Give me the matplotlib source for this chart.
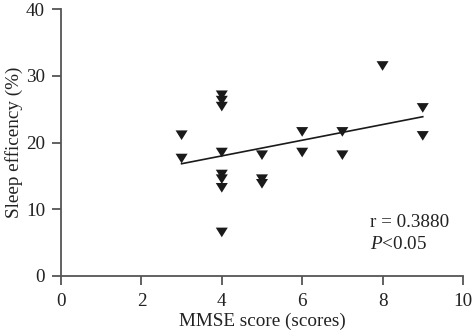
import numpy as np
import matplotlib
matplotlib.use("Agg")
import matplotlib.pyplot as plt

plt.rcParams['font.family'] = ['Liberation Serif', 'DejaVu Serif']
plt.rcParams['mathtext.fontset'] = 'custom'
plt.rcParams['mathtext.it'] = 'Liberation Serif:italic'

# MMSE score and sleep efficiency per subject
mmse = [3, 3, 4, 4, 4, 4, 4, 4, 4, 4, 5, 5, 5, 6, 6, 7, 7, 8, 9, 9]
sleep_eff = [21.1, 17.6, 27.1, 26.3, 25.4, 18.5, 15.2, 14.5, 13.2, 6.5,
             18.1, 14.5, 13.8, 21.6, 18.5, 21.6, 18.1, 31.5, 25.2, 21.0]
r_text = "r = 0.3880"
x_ticks = [0, 2, 4, 6, 8, 10]
y_ticks = [0, 10, 20, 30, 40]

fs = 13.8
fig = plt.figure(figsize=(4.74, 3.35), dpi=100)
ax = fig.add_axes([0.1287, 0.177, 0.848, 0.795])

x = np.array(mmse, dtype=float)
y = np.array(sleep_eff, dtype=float)

# least-squares regression line over the observed MMSE range
slope, intercept = np.polyfit(x, y, 1)
xs = np.array([x.min(), x.max()])
ax.plot(xs, slope * xs + intercept, color='#1a1a1a', lw=1.2, zorder=2)

tri = [(-1, 0.8), (1, 0.8), (0, -0.8)]
ax.scatter(x, y, marker=tri, s=75, color='#1a1a1a', edgecolors='none', zorder=3)

ax.set_xlim(0, 10)
ax.set_ylim(0, 40)
ax.set_xticks(x_ticks)
ax.set_yticks(y_ticks)

for side in ('top', 'right'):
    ax.spines[side].set_visible(False)
for side in ('left', 'bottom'):
    ax.spines[side].set_color('#555555')
    ax.spines[side].set_linewidth(1.3)
ax.tick_params(direction='out', length=6.5, width=1.3, color='#555555',
               labelsize=fs, labelcolor='#222222')
ax.tick_params(axis='y', pad=5)
ax.tick_params(axis='x', pad=6)

ax.set_xlabel("MMSE score (scores)", fontsize=fs, color='#222222', labelpad=2)
ax.set_ylabel("Sleep efficency (%)", fontsize=fs, color='#222222', labelpad=2)

ax.text(7.68, 8.0, r_text, fontsize=fs, color='#222222', va='center', ha='left')
ax.text(7.68, 4.7, r"$P$<0.05", fontsize=fs, color='#222222', va='center', ha='left')

fig.savefig("out.png", dpi=100)
